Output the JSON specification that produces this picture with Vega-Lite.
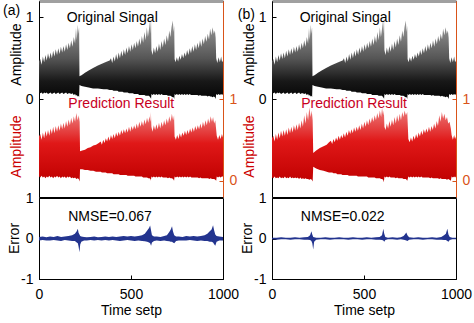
{
"$schema": "https://vega.github.io/schema/vega-lite/v6.json",
"padding": {"left": 2, "top": 0, "right": 0, "bottom": 0},
"background": "white",
"config": {
  "font": "Liberation Sans",
  "view": {"stroke": "black", "strokeWidth": 1},
  "axis": {"labelFont": "Liberation Sans", "titleFont": "Liberation Sans", "labelFontSize": 14, "titleFontSize": 14, "titleFontWeight": "normal", "grid": false, "tickSize": -4, "domainColor": "black", "tickColor": "black", "labelColor": "black", "titleColor": "black", "labelFlush": false, "labelOverlap": false, "domainWidth": 1, "labelExpr": "'' + datum.value"},
  "text": {"font": "Liberation Sans", "fontSize": 14}
},
"datasets": {
  "orig": [
    {"t":0,"h":0.46,"l":0.08},{"t":7,"h":0.49,"l":0.07},{"t":14,"h":0.42,"l":0.08},{"t":21,"h":0.52,"l":0.06},{"t":28,"h":0.45,"l":0.08},{"t":35,"h":0.54,"l":0.07},{"t":42,"h":0.47,"l":0.08},{"t":49,"h":0.56,"l":0.06},{"t":56,"h":0.49,"l":0.07},{"t":63,"h":0.57,"l":0.08},{"t":70,"h":0.50,"l":0.06},{"t":77,"h":0.59,"l":0.07},{"t":84,"h":0.52,"l":0.08},{"t":91,"h":0.61,"l":0.06},{"t":98,"h":0.54,"l":0.07},{"t":105,"h":0.62,"l":0.08},{"t":112,"h":0.55,"l":0.06},{"t":119,"h":0.64,"l":0.07},{"t":126,"h":0.57,"l":0.08},{"t":133,"h":0.65,"l":0.06},{"t":140,"h":0.58,"l":0.07},{"t":147,"h":0.67,"l":0.08},{"t":154,"h":0.60,"l":0.06},{"t":161,"h":0.69,"l":0.07},{"t":168,"h":0.62,"l":0.07},{"t":175,"h":0.72,"l":0.06},{"t":182,"h":0.64,"l":0.07},{"t":189,"h":0.76,"l":0.05},{"t":196,"h":0.68,"l":0.06},{"t":201,"h":0.87,"l":0.04},{"t":205,"h":0.72,"l":0.05},{"t":211,"h":0.91,"l":0.03},{"t":215,"h":0.80,"l":0.04},{"t":218,"h":0.88,"l":0.02},
    {"t":220,"h":0.28,"l":0.17},{"t":231,"h":0.29,"l":0.16},{"t":250,"h":0.32,"l":0.15},{"t":270,"h":0.35,"l":0.14},{"t":294,"h":0.38,"l":0.13},{"t":320,"h":0.41,"l":0.13},{"t":351,"h":0.44,"l":0.12},{"t":370,"h":0.46,"l":0.12},{"t":384,"h":0.47,"l":0.11},{"t":391,"h":0.50,"l":0.11},{"t":398,"h":0.44,"l":0.11},{"t":405,"h":0.52,"l":0.10},{"t":412,"h":0.46,"l":0.10},{"t":419,"h":0.55,"l":0.10},{"t":426,"h":0.48,"l":0.10},{"t":433,"h":0.57,"l":0.09},{"t":440,"h":0.50,"l":0.09},{"t":447,"h":0.59,"l":0.09},{"t":454,"h":0.52,"l":0.09},{"t":461,"h":0.61,"l":0.08},{"t":468,"h":0.54,"l":0.08},{"t":475,"h":0.63,"l":0.08},{"t":482,"h":0.56,"l":0.08},{"t":489,"h":0.65,"l":0.07},{"t":496,"h":0.58,"l":0.07},{"t":503,"h":0.67,"l":0.07},{"t":510,"h":0.60,"l":0.07},{"t":517,"h":0.69,"l":0.06},{"t":524,"h":0.62,"l":0.06},{"t":531,"h":0.71,"l":0.06},{"t":538,"h":0.64,"l":0.06},{"t":545,"h":0.74,"l":0.05},{"t":552,"h":0.66,"l":0.05},{"t":559,"h":0.77,"l":0.05},{"t":566,"h":0.69,"l":0.05},{"t":573,"h":0.82,"l":0.05},{"t":580,"h":0.72,"l":0.04},{"t":586,"h":0.88,"l":0.04},{"t":592,"h":0.76,"l":0.04},{"t":598,"h":0.86,"l":0.04},{"t":604,"h":0.98,"l":0.02},{"t":608,"h":0.80,"l":0.01},{"t":609,"h":0.99,"l":0.0},
    {"t":611,"h":0.60,"l":0.06},{"t":617,"h":0.54,"l":0.05},{"t":624,"h":0.63,"l":0.06},{"t":631,"h":0.56,"l":0.05},{"t":638,"h":0.65,"l":0.06},{"t":645,"h":0.58,"l":0.05},{"t":652,"h":0.68,"l":0.06},{"t":659,"h":0.60,"l":0.05},{"t":666,"h":0.71,"l":0.06},{"t":673,"h":0.63,"l":0.05},{"t":680,"h":0.74,"l":0.05},{"t":687,"h":0.66,"l":0.05},{"t":694,"h":0.78,"l":0.05},{"t":701,"h":0.70,"l":0.04},{"t":708,"h":0.84,"l":0.04},{"t":714,"h":0.76,"l":0.04},{"t":720,"h":0.88,"l":0.03},{"t":727,"h":0.96,"l":0.02},{"t":732,"h":0.82,"l":0.02},{"t":735,"h":0.90,"l":0.0},
    {"t":737,"h":0.49,"l":0.06},{"t":742,"h":0.45,"l":0.05},{"t":749,"h":0.51,"l":0.06},{"t":756,"h":0.46,"l":0.05},{"t":763,"h":0.53,"l":0.06},{"t":770,"h":0.48,"l":0.05},{"t":777,"h":0.55,"l":0.06},{"t":784,"h":0.50,"l":0.05},{"t":791,"h":0.57,"l":0.06},{"t":798,"h":0.52,"l":0.05},{"t":805,"h":0.60,"l":0.06},{"t":812,"h":0.54,"l":0.05},{"t":819,"h":0.62,"l":0.06},{"t":826,"h":0.56,"l":0.05},{"t":833,"h":0.65,"l":0.05},{"t":840,"h":0.58,"l":0.05},{"t":847,"h":0.67,"l":0.05},{"t":854,"h":0.60,"l":0.05},{"t":861,"h":0.69,"l":0.05},{"t":868,"h":0.62,"l":0.04},{"t":875,"h":0.72,"l":0.05},{"t":882,"h":0.64,"l":0.04},{"t":889,"h":0.74,"l":0.04},{"t":896,"h":0.67,"l":0.04},{"t":903,"h":0.77,"l":0.04},{"t":910,"h":0.70,"l":0.04},{"t":917,"h":0.80,"l":0.03},{"t":924,"h":0.73,"l":0.04},{"t":930,"h":0.86,"l":0.03},{"t":937,"h":0.78,"l":0.03},{"t":943,"h":0.88,"l":0.02},{"t":950,"h":0.80,"l":0.03},{"t":956,"h":0.84,"l":0.02},{"t":960,"h":0.75,"l":0.0},
    {"t":963,"h":0.50,"l":0.06},{"t":969,"h":0.44,"l":0.05},{"t":976,"h":0.51,"l":0.06},{"t":983,"h":0.45,"l":0.05},{"t":990,"h":0.52,"l":0.06},{"t":995,"h":0.45,"l":0.05},{"t":1000,"h":0.47,"l":0.06}
  ],
  "predA": [
    {"t":0,"h":0.54,"l":0.05},{"t":7,"h":0.57,"l":0.04},{"t":14,"h":0.50,"l":0.06},{"t":21,"h":0.59,"l":0.04},{"t":28,"h":0.52,"l":0.05},{"t":35,"h":0.61,"l":0.03},{"t":42,"h":0.54,"l":0.05},{"t":49,"h":0.62,"l":0.04},{"t":56,"h":0.55,"l":0.06},{"t":63,"h":0.64,"l":0.04},{"t":70,"h":0.57,"l":0.05},{"t":77,"h":0.66,"l":0.03},{"t":84,"h":0.58,"l":0.05},{"t":91,"h":0.67,"l":0.04},{"t":98,"h":0.60,"l":0.06},{"t":105,"h":0.68,"l":0.04},{"t":112,"h":0.61,"l":0.05},{"t":119,"h":0.70,"l":0.03},{"t":126,"h":0.63,"l":0.05},{"t":133,"h":0.71,"l":0.04},{"t":140,"h":0.64,"l":0.05},{"t":147,"h":0.73,"l":0.03},{"t":154,"h":0.66,"l":0.05},{"t":161,"h":0.75,"l":0.04},{"t":168,"h":0.68,"l":0.05},{"t":175,"h":0.77,"l":0.03},{"t":182,"h":0.70,"l":0.04},{"t":189,"h":0.79,"l":0.03},{"t":196,"h":0.72,"l":0.04},{"t":203,"h":0.83,"l":0.02},{"t":210,"h":0.74,"l":0.03},{"t":216,"h":0.80,"l":0.02},{"t":221,"h":0.72,"l":-0.01},
    {"t":223,"h":0.36,"l":0.14},{"t":235,"h":0.37,"l":0.14},{"t":250,"h":0.38,"l":0.13},{"t":265,"h":0.40,"l":0.13},{"t":280,"h":0.41,"l":0.12},{"t":295,"h":0.43,"l":0.12},{"t":310,"h":0.44,"l":0.11},{"t":325,"h":0.46,"l":0.11},{"t":335,"h":0.48,"l":0.11},{"t":342,"h":0.44,"l":0.10},{"t":349,"h":0.50,"l":0.10},{"t":356,"h":0.46,"l":0.10},{"t":363,"h":0.52,"l":0.10},{"t":370,"h":0.48,"l":0.09},{"t":377,"h":0.54,"l":0.09},{"t":384,"h":0.49,"l":0.09},{"t":391,"h":0.56,"l":0.09},{"t":398,"h":0.51,"l":0.09},{"t":405,"h":0.57,"l":0.08},{"t":412,"h":0.52,"l":0.08},{"t":419,"h":0.59,"l":0.08},{"t":426,"h":0.54,"l":0.08},{"t":433,"h":0.60,"l":0.08},{"t":440,"h":0.55,"l":0.07},{"t":447,"h":0.62,"l":0.07},{"t":454,"h":0.57,"l":0.07},{"t":461,"h":0.63,"l":0.07},{"t":468,"h":0.58,"l":0.07},{"t":475,"h":0.64,"l":0.07},{"t":482,"h":0.59,"l":0.06},{"t":489,"h":0.66,"l":0.06},{"t":496,"h":0.60,"l":0.06},{"t":503,"h":0.67,"l":0.06},{"t":510,"h":0.62,"l":0.06},{"t":517,"h":0.68,"l":0.06},{"t":524,"h":0.63,"l":0.05},{"t":531,"h":0.70,"l":0.05},{"t":538,"h":0.64,"l":0.05},{"t":545,"h":0.72,"l":0.05},{"t":552,"h":0.66,"l":0.05},{"t":559,"h":0.73,"l":0.05},{"t":566,"h":0.67,"l":0.04},{"t":573,"h":0.75,"l":0.04},{"t":580,"h":0.69,"l":0.04},{"t":587,"h":0.77,"l":0.04},{"t":594,"h":0.71,"l":0.03},{"t":600,"h":0.79,"l":0.03},{"t":606,"h":0.72,"l":0.02},{"t":608,"h":0.84,"l":0.0},
    {"t":611,"h":0.66,"l":0.05},{"t":617,"h":0.60,"l":0.04},{"t":624,"h":0.68,"l":0.05},{"t":631,"h":0.62,"l":0.04},{"t":638,"h":0.69,"l":0.05},{"t":645,"h":0.63,"l":0.04},{"t":652,"h":0.71,"l":0.05},{"t":659,"h":0.64,"l":0.04},{"t":666,"h":0.72,"l":0.05},{"t":673,"h":0.66,"l":0.04},{"t":680,"h":0.74,"l":0.04},{"t":687,"h":0.68,"l":0.04},{"t":694,"h":0.76,"l":0.04},{"t":701,"h":0.70,"l":0.03},{"t":708,"h":0.79,"l":0.04},{"t":715,"h":0.72,"l":0.03},{"t":722,"h":0.82,"l":0.03},{"t":729,"h":0.74,"l":0.02},{"t":734,"h":0.80,"l":0.0},
    {"t":737,"h":0.54,"l":0.05},{"t":744,"h":0.50,"l":0.04},{"t":751,"h":0.56,"l":0.05},{"t":758,"h":0.51,"l":0.04},{"t":765,"h":0.58,"l":0.05},{"t":772,"h":0.53,"l":0.04},{"t":779,"h":0.59,"l":0.05},{"t":786,"h":0.55,"l":0.04},{"t":793,"h":0.61,"l":0.05},{"t":800,"h":0.56,"l":0.04},{"t":807,"h":0.62,"l":0.05},{"t":814,"h":0.57,"l":0.04},{"t":821,"h":0.64,"l":0.05},{"t":828,"h":0.59,"l":0.04},{"t":835,"h":0.65,"l":0.04},{"t":842,"h":0.60,"l":0.04},{"t":849,"h":0.67,"l":0.04},{"t":856,"h":0.62,"l":0.04},{"t":863,"h":0.68,"l":0.04},{"t":870,"h":0.63,"l":0.03},{"t":877,"h":0.70,"l":0.04},{"t":884,"h":0.64,"l":0.03},{"t":891,"h":0.72,"l":0.03},{"t":898,"h":0.66,"l":0.03},{"t":905,"h":0.74,"l":0.03},{"t":912,"h":0.68,"l":0.03},{"t":919,"h":0.76,"l":0.03},{"t":926,"h":0.70,"l":0.02},{"t":933,"h":0.79,"l":0.03},{"t":940,"h":0.72,"l":0.02},{"t":946,"h":0.78,"l":0.02},{"t":952,"h":0.70,"l":0.02},{"t":958,"h":0.74,"l":0.01},{"t":963,"h":0.62,"l":0.0},
    {"t":966,"h":0.55,"l":0.05},{"t":973,"h":0.50,"l":0.04},{"t":980,"h":0.56,"l":0.05},{"t":987,"h":0.51,"l":0.04},{"t":994,"h":0.57,"l":0.05},{"t":1000,"h":0.53,"l":0.05}
  ],
  "predB": [
    {"t":0,"h":0.52,"l":0.04},{"t":7,"h":0.55,"l":0.03},{"t":14,"h":0.48,"l":0.05},{"t":21,"h":0.57,"l":0.03},{"t":28,"h":0.50,"l":0.04},{"t":35,"h":0.59,"l":0.03},{"t":42,"h":0.52,"l":0.05},{"t":49,"h":0.61,"l":0.03},{"t":56,"h":0.54,"l":0.04},{"t":63,"h":0.62,"l":0.03},{"t":70,"h":0.55,"l":0.05},{"t":77,"h":0.63,"l":0.03},{"t":84,"h":0.56,"l":0.04},{"t":91,"h":0.65,"l":0.03},{"t":98,"h":0.58,"l":0.05},{"t":105,"h":0.66,"l":0.03},{"t":112,"h":0.59,"l":0.04},{"t":119,"h":0.68,"l":0.03},{"t":126,"h":0.61,"l":0.04},{"t":133,"h":0.69,"l":0.03},{"t":140,"h":0.62,"l":0.04},{"t":147,"h":0.71,"l":0.02},{"t":154,"h":0.64,"l":0.04},{"t":161,"h":0.74,"l":0.02},{"t":168,"h":0.66,"l":0.03},{"t":175,"h":0.80,"l":0.02},{"t":182,"h":0.70,"l":0.03},{"t":189,"h":0.84,"l":0.02},{"t":196,"h":0.74,"l":0.02},{"t":203,"h":0.90,"l":0.01},{"t":210,"h":0.78,"l":0.02},{"t":216,"h":0.86,"l":0.01},{"t":221,"h":0.74,"l":-0.01},
    {"t":224,"h":0.34,"l":0.17},{"t":240,"h":0.37,"l":0.15},{"t":260,"h":0.40,"l":0.13},{"t":280,"h":0.42,"l":0.12},{"t":297,"h":0.44,"l":0.11},{"t":310,"h":0.47,"l":0.10},{"t":320,"h":0.49,"l":0.10},{"t":327,"h":0.45,"l":0.10},{"t":334,"h":0.51,"l":0.09},{"t":341,"h":0.47,"l":0.09},{"t":348,"h":0.53,"l":0.09},{"t":355,"h":0.49,"l":0.08},{"t":362,"h":0.55,"l":0.08},{"t":369,"h":0.50,"l":0.08},{"t":376,"h":0.56,"l":0.08},{"t":383,"h":0.52,"l":0.07},{"t":390,"h":0.58,"l":0.07},{"t":397,"h":0.53,"l":0.07},{"t":404,"h":0.60,"l":0.07},{"t":411,"h":0.55,"l":0.07},{"t":418,"h":0.62,"l":0.06},{"t":425,"h":0.57,"l":0.06},{"t":432,"h":0.63,"l":0.06},{"t":439,"h":0.58,"l":0.06},{"t":446,"h":0.65,"l":0.06},{"t":453,"h":0.60,"l":0.06},{"t":460,"h":0.66,"l":0.06},{"t":467,"h":0.61,"l":0.05},{"t":474,"h":0.68,"l":0.05},{"t":481,"h":0.62,"l":0.05},{"t":488,"h":0.70,"l":0.05},{"t":495,"h":0.64,"l":0.05},{"t":502,"h":0.72,"l":0.05},{"t":509,"h":0.66,"l":0.05},{"t":516,"h":0.74,"l":0.05},{"t":523,"h":0.68,"l":0.04},{"t":530,"h":0.76,"l":0.04},{"t":537,"h":0.70,"l":0.04},{"t":544,"h":0.78,"l":0.04},{"t":551,"h":0.72,"l":0.04},{"t":558,"h":0.80,"l":0.04},{"t":565,"h":0.74,"l":0.03},{"t":572,"h":0.83,"l":0.03},{"t":579,"h":0.76,"l":0.03},{"t":586,"h":0.86,"l":0.03},{"t":593,"h":0.78,"l":0.02},{"t":598,"h":0.89,"l":0.02},{"t":604,"h":0.80,"l":0.01},{"t":608,"h":0.86,"l":-0.02},
    {"t":611,"h":0.66,"l":0.05},{"t":617,"h":0.62,"l":0.04},{"t":624,"h":0.70,"l":0.05},{"t":631,"h":0.64,"l":0.04},{"t":638,"h":0.73,"l":0.05},{"t":645,"h":0.66,"l":0.04},{"t":652,"h":0.75,"l":0.04},{"t":659,"h":0.68,"l":0.04},{"t":666,"h":0.78,"l":0.04},{"t":673,"h":0.70,"l":0.03},{"t":680,"h":0.80,"l":0.04},{"t":687,"h":0.72,"l":0.03},{"t":694,"h":0.82,"l":0.03},{"t":701,"h":0.74,"l":0.03},{"t":708,"h":0.84,"l":0.03},{"t":715,"h":0.78,"l":0.02},{"t":720,"h":0.86,"l":0.02},{"t":728,"h":0.80,"l":0.02},{"t":735,"h":0.84,"l":0.0},
    {"t":741,"h":0.51,"l":0.05},{"t":748,"h":0.47,"l":0.04},{"t":755,"h":0.53,"l":0.05},{"t":762,"h":0.48,"l":0.04},{"t":769,"h":0.55,"l":0.05},{"t":776,"h":0.50,"l":0.04},{"t":783,"h":0.57,"l":0.05},{"t":790,"h":0.52,"l":0.04},{"t":797,"h":0.59,"l":0.05},{"t":804,"h":0.54,"l":0.04},{"t":811,"h":0.61,"l":0.05},{"t":818,"h":0.56,"l":0.04},{"t":825,"h":0.63,"l":0.04},{"t":832,"h":0.58,"l":0.04},{"t":839,"h":0.64,"l":0.04},{"t":846,"h":0.59,"l":0.04},{"t":853,"h":0.66,"l":0.04},{"t":860,"h":0.60,"l":0.03},{"t":867,"h":0.67,"l":0.04},{"t":874,"h":0.62,"l":0.03},{"t":881,"h":0.70,"l":0.03},{"t":888,"h":0.64,"l":0.03},{"t":895,"h":0.73,"l":0.03},{"t":902,"h":0.67,"l":0.03},{"t":909,"h":0.80,"l":0.02},{"t":916,"h":0.72,"l":0.03},{"t":923,"h":0.84,"l":0.02},{"t":930,"h":0.76,"l":0.02},{"t":937,"h":0.82,"l":0.02},{"t":944,"h":0.74,"l":0.02},{"t":951,"h":0.78,"l":0.01},{"t":958,"h":0.70,"l":0.02},{"t":965,"h":0.72,"l":0.01},{"t":972,"h":0.64,"l":0.0},
    {"t":976,"h":0.56,"l":0.05},{"t":983,"h":0.50,"l":0.04},{"t":990,"h":0.56,"l":0.05},{"t":995,"h":0.51,"l":0.04},{"t":1000,"h":0.54,"l":0.05}
  ],
  "errA": [
    {"t":0,"h":0.04,"l":-0.05},{"t":20,"h":0.05,"l":-0.04},{"t":40,"h":0.03,"l":-0.05},{"t":60,"h":0.05,"l":-0.05},{"t":80,"h":0.04,"l":-0.04},{"t":100,"h":0.06,"l":-0.05},{"t":120,"h":0.04,"l":-0.06},{"t":140,"h":0.05,"l":-0.04},{"t":160,"h":0.06,"l":-0.05},{"t":180,"h":0.08,"l":-0.06},{"t":195,"h":0.12,"l":-0.06},{"t":205,"h":0.18,"l":-0.10},{"t":211,"h":0.24,"l":-0.12},{"t":215,"h":0.14,"l":-0.20},{"t":220,"h":0.10,"l":-0.34},{"t":224,"h":0.06,"l":-0.15},{"t":230,"h":0.05,"l":-0.08},{"t":245,"h":0.04,"l":-0.05},{"t":260,"h":0.03,"l":-0.05},{"t":280,"h":0.04,"l":-0.04},{"t":300,"h":0.05,"l":-0.05},{"t":320,"h":0.03,"l":-0.04},{"t":340,"h":0.04,"l":-0.05},{"t":360,"h":0.05,"l":-0.04},{"t":380,"h":0.04,"l":-0.05},{"t":400,"h":0.05,"l":-0.04},{"t":420,"h":0.04,"l":-0.05},{"t":440,"h":0.05,"l":-0.06},{"t":460,"h":0.06,"l":-0.05},{"t":480,"h":0.05,"l":-0.04},{"t":500,"h":0.06,"l":-0.05},{"t":520,"h":0.05,"l":-0.06},{"t":540,"h":0.06,"l":-0.05},{"t":560,"h":0.08,"l":-0.06},{"t":575,"h":0.12,"l":-0.07},{"t":588,"h":0.20,"l":-0.08},{"t":598,"h":0.26,"l":-0.10},{"t":604,"h":0.32,"l":-0.12},{"t":609,"h":0.20,"l":-0.18},{"t":614,"h":0.08,"l":-0.10},{"t":625,"h":0.05,"l":-0.06},{"t":640,"h":0.05,"l":-0.05},{"t":660,"h":0.04,"l":-0.06},{"t":680,"h":0.06,"l":-0.05},{"t":695,"h":0.08,"l":-0.06},{"t":708,"h":0.16,"l":-0.07},{"t":716,"h":0.22,"l":-0.08},{"t":723,"h":0.30,"l":-0.08},{"t":728,"h":0.18,"l":-0.10},{"t":735,"h":0.08,"l":-0.12},{"t":745,"h":0.05,"l":-0.06},{"t":760,"h":0.05,"l":-0.05},{"t":780,"h":0.04,"l":-0.05},{"t":800,"h":0.06,"l":-0.05},{"t":820,"h":0.05,"l":-0.04},{"t":840,"h":0.06,"l":-0.05},{"t":860,"h":0.05,"l":-0.06},{"t":880,"h":0.06,"l":-0.05},{"t":900,"h":0.08,"l":-0.06},{"t":915,"h":0.12,"l":-0.06},{"t":928,"h":0.18,"l":-0.08},{"t":938,"h":0.22,"l":-0.08},{"t":946,"h":0.33,"l":-0.10},{"t":952,"h":0.20,"l":-0.14},{"t":958,"h":0.10,"l":-0.18},{"t":965,"h":0.06,"l":-0.08},{"t":980,"h":0.05,"l":-0.05},{"t":1000,"h":0.04,"l":-0.05}
  ],
  "errB": [
    {"t":0,"h":0.02,"l":-0.02},{"t":25,"h":0.02,"l":-0.03},{"t":50,"h":0.03,"l":-0.02},{"t":75,"h":0.02,"l":-0.02},{"t":100,"h":0.02,"l":-0.03},{"t":125,"h":0.03,"l":-0.02},{"t":150,"h":0.02,"l":-0.02},{"t":175,"h":0.03,"l":-0.03},{"t":195,"h":0.04,"l":-0.03},{"t":207,"h":0.08,"l":-0.04},{"t":214,"h":0.18,"l":-0.06},{"t":219,"h":0.10,"l":-0.12},{"t":224,"h":0.04,"l":-0.27},{"t":229,"h":0.03,"l":-0.08},{"t":240,"h":0.02,"l":-0.03},{"t":265,"h":0.02,"l":-0.02},{"t":290,"h":0.03,"l":-0.02},{"t":315,"h":0.02,"l":-0.03},{"t":340,"h":0.02,"l":-0.02},{"t":365,"h":0.03,"l":-0.02},{"t":390,"h":0.02,"l":-0.02},{"t":415,"h":0.02,"l":-0.03},{"t":440,"h":0.03,"l":-0.02},{"t":465,"h":0.02,"l":-0.02},{"t":490,"h":0.02,"l":-0.03},{"t":515,"h":0.03,"l":-0.02},{"t":540,"h":0.02,"l":-0.02},{"t":565,"h":0.03,"l":-0.03},{"t":585,"h":0.04,"l":-0.03},{"t":598,"h":0.08,"l":-0.04},{"t":605,"h":0.24,"l":-0.05},{"t":610,"h":0.12,"l":-0.08},{"t":616,"h":0.04,"l":-0.04},{"t":630,"h":0.02,"l":-0.02},{"t":655,"h":0.03,"l":-0.02},{"t":680,"h":0.02,"l":-0.03},{"t":700,"h":0.03,"l":-0.02},{"t":715,"h":0.06,"l":-0.03},{"t":722,"h":0.10,"l":-0.04},{"t":730,"h":0.15,"l":-0.05},{"t":736,"h":0.08,"l":-0.06},{"t":745,"h":0.03,"l":-0.03},{"t":770,"h":0.02,"l":-0.02},{"t":795,"h":0.03,"l":-0.02},{"t":820,"h":0.02,"l":-0.03},{"t":845,"h":0.02,"l":-0.02},{"t":870,"h":0.03,"l":-0.02},{"t":895,"h":0.02,"l":-0.03},{"t":920,"h":0.04,"l":-0.03},{"t":935,"h":0.08,"l":-0.04},{"t":945,"h":0.12,"l":-0.04},{"t":953,"h":0.24,"l":-0.06},{"t":959,"h":0.10,"l":-0.08},{"t":966,"h":0.04,"l":-0.04},{"t":980,"h":0.02,"l":-0.02},{"t":1000,"h":0.02,"l":-0.02}
  ]
},
"concat": [
  {
    "width": 184, "height": 196,
    "layer": [
      {"layer": [
        {"data": {"name": "orig"}, "mark": {"type": "area", "color": {"gradient": "linear", "x1": 0, "y1": 0, "x2": 0, "y2": 1, "stops": [{"offset": 0, "color": "#a0a0a0"}, {"offset": 0.5, "color": "#555555"}, {"offset": 0.78, "color": "#181818"}, {"offset": 1, "color": "#050505"}]}},
         "encoding": {"x": {"field": "t", "type": "quantitative", "scale": {"domain": [0, 1000]}, "axis": {"orient": "top", "labels": false, "ticks": false, "title": null, "domainColor": "#a0a0a0", "domainWidth": 3}},
                      "y": {"field": "h", "type": "quantitative", "scale": {"domain": [-1.051, 1.11]}, "axis": {"orient": "left", "values": [0, 1], "title": "Amplitude", "titleX": -23, "titleY": 53, "titleBaseline": "middle", "labelPadding": 10}},
                      "y2": {"field": "l"}}},
        {"data": {"values": [{}]}, "mark": {"type": "text", "text": "Original Singal", "color": "black", "fontSize": 14},
         "encoding": {"x": {"datum": 398}, "y": {"datum": 0.99}}}
      ]},
      {"layer": [
        {"data": {"name": "predA"}, "mark": {"type": "area", "color": {"gradient": "linear", "x1": 0, "y1": 0, "x2": 0, "y2": 1, "stops": [{"offset": 0, "color": "#ec8080"}, {"offset": 0.45, "color": "#e01818"}, {"offset": 1, "color": "#c00000"}]}},
         "encoding": {"x": {"field": "t", "type": "quantitative"},
                      "y": {"field": "h", "type": "quantitative", "scale": {"domain": [-0.045, 2.145]}, "axis": {"orient": "right", "values": [0, 1], "title": null, "domainColor": "#d95319", "tickColor": "#d95319", "labelColor": "#d95319", "labelPadding": 10}},
                      "y2": {"field": "l"}}},
        {"data": {"values": [{}]}, "mark": {"type": "text", "text": "Prediction Result", "color": "#c8001e", "fontSize": 14},
         "encoding": {"x": {"datum": 447}, "y": {"datum": 0.94}}}
      ]},
      {"data": {"values": [{}]}, "mark": {"type": "text", "text": "(a)", "color": "black", "fontSize": 14},
       "encoding": {"x": {"datum": -149}, "y": {"datum": 0.95, "scale": {"domain": [0, 1]}, "axis": {"orient": "left", "labels": false, "ticks": false, "domain": false, "title": "Amplitude", "titleColor": "#cc0000", "titleX": -23, "titleY": 145, "titleBaseline": "middle"}}}}
    ],
    "resolve": {"scale": {"y": "independent"}, "axis": {"y": "independent"}}
  },
  {
    "width": 184, "height": 196,
    "layer": [
      {"layer": [
        {"data": {"name": "orig"}, "mark": {"type": "area", "color": {"gradient": "linear", "x1": 0, "y1": 0, "x2": 0, "y2": 1, "stops": [{"offset": 0, "color": "#a0a0a0"}, {"offset": 0.5, "color": "#555555"}, {"offset": 0.78, "color": "#181818"}, {"offset": 1, "color": "#050505"}]}},
         "encoding": {"x": {"field": "t", "type": "quantitative", "scale": {"domain": [0, 1000]}, "axis": {"orient": "top", "labels": false, "ticks": false, "title": null, "domainColor": "#a0a0a0", "domainWidth": 3}},
                      "y": {"field": "h", "type": "quantitative", "scale": {"domain": [-1.051, 1.11]}, "axis": {"orient": "left", "values": [0, 1], "title": "Amplitude", "titleX": -23, "titleY": 53, "titleBaseline": "middle", "labelPadding": 10}},
                      "y2": {"field": "l"}}},
        {"data": {"values": [{}]}, "mark": {"type": "text", "text": "Original Singal", "color": "black", "fontSize": 14},
         "encoding": {"x": {"datum": 398}, "y": {"datum": 0.99}}}
      ]},
      {"layer": [
        {"data": {"name": "predB"}, "mark": {"type": "area", "color": {"gradient": "linear", "x1": 0, "y1": 0, "x2": 0, "y2": 1, "stops": [{"offset": 0, "color": "#ec8080"}, {"offset": 0.45, "color": "#e01818"}, {"offset": 1, "color": "#c00000"}]}},
         "encoding": {"x": {"field": "t", "type": "quantitative"},
                      "y": {"field": "h", "type": "quantitative", "scale": {"domain": [-0.045, 2.145]}, "axis": {"orient": "right", "values": [0, 1], "title": null, "domainColor": "#d95319", "tickColor": "#d95319", "labelColor": "#d95319", "labelPadding": 10}},
                      "y2": {"field": "l"}}},
        {"data": {"values": [{}]}, "mark": {"type": "text", "text": "Prediction Result", "color": "#c8001e", "fontSize": 14},
         "encoding": {"x": {"datum": 446}, "y": {"datum": 0.94}}}
      ]},
      {"data": {"values": [{}]}, "mark": {"type": "text", "text": "(b)", "color": "black", "fontSize": 14},
       "encoding": {"x": {"datum": -139}, "y": {"datum": 0.93, "scale": {"domain": [0, 1]}, "axis": {"orient": "left", "labels": false, "ticks": false, "domain": false, "title": "Amplitude", "titleColor": "#cc0000", "titleX": -23, "titleY": 145, "titleBaseline": "middle"}}}}
    ],
    "resolve": {"scale": {"y": "independent"}, "axis": {"y": "independent"}}
  },
  {
    "width": 184, "height": 81,
    "layer": [
      {"data": {"name": "errA"}, "mark": {"type": "area", "color": "#23348f"},
       "encoding": {"x": {"field": "t", "type": "quantitative", "scale": {"domain": [0, 1000]}, "axis": {"values": [0, 500, 1000], "title": "Time setp", "labelPadding": 12, "titlePadding": 2}},
                    "y": {"field": "h", "type": "quantitative", "scale": {"domain": [-1, 1]}, "axis": {"values": [-1, 0, 1], "title": "Error", "titleX": -25, "titleY": 40, "titleBaseline": "middle", "labelPadding": 10}},
                    "y2": {"field": "l"}}},
      {"data": {"values": [{}]}, "mark": {"type": "text", "text": "NMSE=0.067", "color": "black", "fontSize": 14},
       "encoding": {"x": {"datum": 386}, "y": {"datum": 0.52}}}
    ]
  },
  {
    "width": 184, "height": 81,
    "layer": [
      {"data": {"name": "errB"}, "mark": {"type": "area", "color": "#23348f"},
       "encoding": {"x": {"field": "t", "type": "quantitative", "scale": {"domain": [0, 1000]}, "axis": {"values": [0, 500, 1000], "title": "Time setp", "labelPadding": 12, "titlePadding": 2}},
                    "y": {"field": "h", "type": "quantitative", "scale": {"domain": [-1, 1]}, "axis": {"values": [-1, 0, 1], "title": "Error", "titleX": -25, "titleY": 40, "titleBaseline": "middle", "labelPadding": 10}},
                    "y2": {"field": "l"}}},
      {"data": {"values": [{}]}, "mark": {"type": "text", "text": "NMSE=0.022", "color": "black", "fontSize": 14},
       "encoding": {"x": {"datum": 384}, "y": {"datum": 0.52}}}
    ]
  }
],
"columns": 2,
"spacing": {"row": 1, "column": 49},
"bounds": "flush"
}
